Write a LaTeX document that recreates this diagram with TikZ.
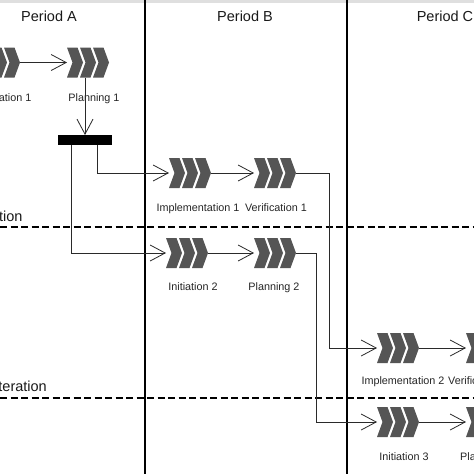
\documentclass[tikz,border=0pt]{standalone}
\usepackage{fontspec}
\setmainfont{Liberation Sans}
\usetikzlibrary{arrows.meta}
\definecolor{chevgray}{HTML}{555555}
\definecolor{linegray}{HTML}{2A2A2A}
\begin{document}
\begin{tikzpicture}[x=1pt,y=-1pt,
  chev/.style={minimum width=42pt, minimum height=30pt, inner sep=0pt, outer sep=0pt, anchor=west},
  lab/.style={font=\fontsize{10.8}{13}\selectfont, inner sep=0pt, anchor=base, text=black!85},
  period/.style={font=\fontsize{14.5}{17}\selectfont, inner sep=0pt, anchor=base, text=black!90},
  iter/.style={font=\fontsize{14.5}{17}\selectfont, inner sep=0pt, anchor=base east, text=black!90},
  conn/.style={draw=linegray, line width=0.8pt, -{Straight Barb[length=15pt,width=16pt]}},
  periodline/.style={draw=black, line width=1.8pt},
  iterline/.style={draw=black, line width=1.2pt, dash pattern=on 7pt off 3.5pt}]
\useasboundingbox (0,0) rectangle (474,474);
\clip (0,0) rectangle (474,474);
\fill[white] (0,0) rectangle (474,474);
\fill[gray!25] (0,0) rectangle (474,2.5);
% period separators
\draw[periodline] (145,0) -- (145,474);
\draw[periodline] (347,0) -- (347,474);
% iteration separators
\draw[iterline] (0,227) -- (474,227);
\draw[iterline] (0,398) -- (474,398);
% headings
\node[period] (pa) at (49,21.5) {Period A};
\node[period] (pb) at (245,21.5) {Period B};
\node[period] (pc) at (445,21.5) {Period C};
\node[iter] (it1) at (22.7,221) {Iteration};
\node[iter] (it2) at (47,391.7) {Iteration};
% chevron nodes
\node[chev] (init1) at (-22,62.5) {};
\node[chev] (plan1) at (67,62.5) {};
\node[chev] (impl1) at (169,173) {};
\node[chev] (ver1) at (254,173) {};
\node[chev] (init2) at (166,253) {};
\node[chev] (plan2) at (254,253) {};
\node[chev] (impl2) at (377,348) {};
\node[chev] (ver2) at (466,348) {};
\node[chev] (init3) at (377,422) {};
\node[chev] (plan3) at (466,422) {};
\foreach \n in {init1,plan1,impl1,ver1,init2,plan2,impl2,ver2,init3,plan3}{
  \foreach \i in {0,1,2}{
    \fill[chevgray] ([xshift=\i*13pt]\n.north west) -- ++(10.5pt,0pt) -- ++(5.5pt,-15pt) -- ++(-5.5pt,-15pt) -- ++(-10.5pt,0pt) -- ++(5.5pt,15pt) -- cycle;
  }
}
% labels
\node[lab, anchor=base east] (linit1) at (31.5,101) {Initiation 1};
\node[lab] (lplan1) at (94,101) {Planning 1};
\node[lab] (limpl1) at (198,211) {Implementation 1};
\node[lab] (lver1) at (276,211) {Verification 1};
\node[lab] (linit2) at (193,290.5) {Initiation 2};
\node[lab] (lplan2) at (274,290.5) {Planning 2};
\node[lab] (limpl2) at (403,384) {Implementation 2};
\node[lab, anchor=base west] (lver2) at (448,384) {Verification 2};
\node[lab] (linit3) at (404,460) {Initiation 3};
\node[lab, anchor=base west] (lplan3) at (460,460) {Planning 3};
% fork bar
\node[fill=black, minimum width=54pt, minimum height=10pt, inner sep=0pt, outer sep=0pt] (fork) at (85,140) {};
% connectors
\draw[conn] (init1.east) -- (plan1.west);
\draw[conn] (plan1.south -| fork.north) -- (fork.north);
\draw[conn] ([xshift=13.5pt]fork.south west) |- (init2.west);
\draw[conn] ([xshift=-14.5pt]fork.south east) |- (impl1.west);
\draw[conn] (impl1.east) -- (ver1.west);
\draw[conn] (init2.east) -- (plan2.west);
\draw[conn] (ver1.east) -- ++(33,0) |- (impl2.west);
\draw[conn] (plan2.east) -- ++(20,0) |- (init3.west);
\draw[conn] (impl2.east) -- (ver2.west);
\draw[conn] (init3.east) -- (plan3.west);
\end{tikzpicture}
\end{document}
